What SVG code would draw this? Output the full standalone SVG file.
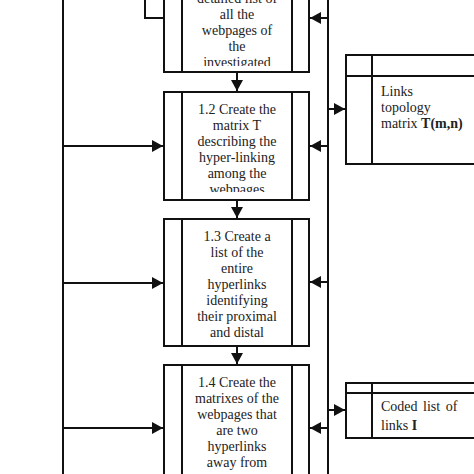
<svg xmlns="http://www.w3.org/2000/svg" width="474" height="474" viewBox="0 0 474 474">
<style>
.box{fill:#fff;stroke:#111;stroke-width:2}
.ln{stroke:#111;stroke-width:2;fill:none}
.t{font-family:"Liberation Serif","Times New Roman",serif;font-size:14px;fill:#222;text-anchor:middle}
.d{font-family:"Liberation Serif","Times New Roman",serif;font-size:14px;fill:#222}
.b{font-weight:bold}
</style>
<defs>
<marker id="ah" markerUnits="userSpaceOnUse" markerWidth="12" markerHeight="12" refX="11" refY="6" orient="auto">
<path d="M0,0 L11,6 L0,12 Z" fill="#111"/>
</marker>
<clipPath id="c1"><rect x="182" y="-40" width="110" height="106"/></clipPath>
<clipPath id="c2"><rect x="182" y="92" width="110" height="100"/></clipPath>
<clipPath id="c3"><rect x="182" y="219" width="110" height="124"/></clipPath>
<clipPath id="c4"><rect x="182" y="365" width="110" height="120"/></clipPath>
</defs>
<rect width="474" height="474" fill="#fff"/>
<g id="connectors">
<line class="ln" x1="63" y1="0" x2="63" y2="474"/>
<line class="ln" x1="328" y1="0" x2="328" y2="474"/>
<polyline class="ln" points="145,0 145,18 163,18"/>
<line class="ln" x1="63" y1="146" x2="163" y2="146" marker-end="url(#ah)"/>
<line class="ln" x1="63" y1="283" x2="163" y2="283" marker-end="url(#ah)"/>
<line class="ln" x1="63" y1="428" x2="163" y2="428" marker-end="url(#ah)"/>
<line class="ln" x1="328" y1="18" x2="310" y2="18" marker-end="url(#ah)"/>
<line class="ln" x1="328" y1="146" x2="310" y2="146" marker-end="url(#ah)"/>
<line class="ln" x1="328" y1="282" x2="310" y2="282" marker-end="url(#ah)"/>
<line class="ln" x1="328" y1="428" x2="310" y2="428" marker-end="url(#ah)"/>
<line class="ln" x1="328" y1="109" x2="345" y2="109" marker-end="url(#ah)"/>
<line class="ln" x1="328" y1="410" x2="345" y2="410" marker-end="url(#ah)"/>
<line class="ln" x1="237" y1="72" x2="237" y2="91" marker-end="url(#ah)"/>
<line class="ln" x1="237" y1="200" x2="237" y2="218" marker-end="url(#ah)"/>
<line class="ln" x1="237" y1="346" x2="237" y2="364" marker-end="url(#ah)"/>
</g>
<g id="node1">
<rect class="box" x="164" y="-30" width="145" height="102"/>
<line class="ln" x1="182" y1="-30" x2="182" y2="72"/>
<line class="ln" x1="292" y1="-30" x2="292" y2="72"/>
<g clip-path="url(#c1)">
<text class="t" x="237" y="3">detailed list of</text>
<text class="t" x="237" y="19">all the</text>
<text class="t" x="237" y="35">webpages of</text>
<text class="t" x="237" y="51">the</text>
<text class="t" x="237" y="67">investigated</text>
</g>
</g>
<g id="node2">
<rect class="box" x="164" y="92" width="145" height="108"/>
<line class="ln" x1="182" y1="92" x2="182" y2="200"/>
<line class="ln" x1="292" y1="92" x2="292" y2="200"/>
<g clip-path="url(#c2)">
<text class="t" x="237" y="114">1.2 Create the</text>
<text class="t" x="237" y="130">matrix T</text>
<text class="t" x="237" y="146">describing the</text>
<text class="t" x="237" y="162">hyper-linking</text>
<text class="t" x="237" y="178">among the</text>
<text class="t" x="237" y="194">webpages</text>
</g>
</g>
<g id="node3">
<rect class="box" x="164" y="219" width="145" height="127"/>
<line class="ln" x1="182" y1="219" x2="182" y2="346"/>
<line class="ln" x1="292" y1="219" x2="292" y2="346"/>
<g clip-path="url(#c3)">
<text class="t" x="237" y="241">1.3 Create a</text>
<text class="t" x="237" y="257">list of the</text>
<text class="t" x="237" y="273">entire</text>
<text class="t" x="237" y="289">hyperlinks</text>
<text class="t" x="237" y="305">identifying</text>
<text class="t" x="237" y="321">their proximal</text>
<text class="t" x="237" y="337">and distal</text>
</g>
</g>
<g id="node4">
<rect class="box" x="164" y="365" width="145" height="130"/>
<line class="ln" x1="182" y1="365" x2="182" y2="495"/>
<line class="ln" x1="292" y1="365" x2="292" y2="495"/>
<g clip-path="url(#c4)">
<text class="t" x="237" y="387">1.4 Create the</text>
<text class="t" x="237" y="403">matrixes of the</text>
<text class="t" x="237" y="419">webpages that</text>
<text class="t" x="237" y="435">are two</text>
<text class="t" x="237" y="451">hyperlinks</text>
<text class="t" x="237" y="467">away from</text>
</g>
</g>
<g id="data1">
<rect class="box" x="346" y="55" width="140" height="109"/>
<line class="ln" x1="372" y1="55" x2="372" y2="164"/>
<line class="ln" x1="346" y1="76" x2="486" y2="76"/>
<text class="d" x="381" y="96">Links</text>
<text class="d" x="381" y="112">topology</text>
<text class="d" x="381" y="128">matrix <tspan class="b">T(m,n)</tspan></text>
</g>
<g id="data2">
<rect class="box" x="346" y="383" width="140" height="55"/>
<line class="ln" x1="372" y1="383" x2="372" y2="438"/>
<line class="ln" x1="346" y1="393" x2="486" y2="393"/>
<text class="d" x="381" y="411" word-spacing="2">Coded list of</text>
<text class="d" x="381" y="430">links <tspan class="b">I</tspan></text>
</g>
</svg>
